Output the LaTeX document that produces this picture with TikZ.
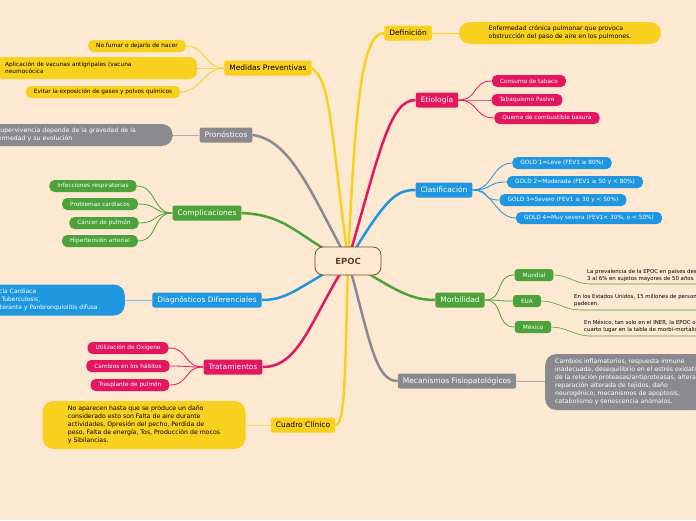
\documentclass[tikz,border=0pt]{standalone}
\usepackage{fontspec}
\setmainfont{DejaVu Sans}
\begin{document}
\begin{tikzpicture}[x=1pt,y=-1pt,
 every node/.style={inner sep=0pt,font=\fontsize{6.5}{7.5}\selectfont},
 main/.style={rounded corners=2pt,minimum height=15pt,inner xsep=5pt,font=\fontsize{7.5}{9}\selectfont},
 leaf/.style={rounded corners=5pt,minimum height=12pt,inner xsep=8pt,font=\fontsize{5.8}{7}\selectfont},
 big/.style={rounded corners=11pt,inner xsep=10pt,inner ysep=4pt,align=left,font=\fontsize{6.2}{8}\selectfont},
 plain/.style={align=left,anchor=west,font=\fontsize{5.4}{7}\selectfont},
 br/.style={line width=2.5pt}]
\definecolor{bg}{HTML}{FDE8D2}
\definecolor{yel}{HTML}{F9D01E}
\definecolor{pnk}{HTML}{E3175F}
\definecolor{blu}{HTML}{1E96E0}
\definecolor{grn}{HTML}{4BA33A}
\definecolor{gry}{HTML}{8A8A8E}
\fill[bg] (0,0) rectangle (696,520);
\useasboundingbox (0,0) rectangle (696,520);
\coordinate (c) at (348,261);
% right side
\node[main,fill=yel] (def) at (408,33) {Definición};
\node[big,fill=yel,minimum width=202pt,minimum height=22pt,inner ysep=2pt] (deft) at (560,33) {Enfermedad crónica pulmonar que provoca\\obstrucción del paso de aire en los pulmones.};
\node[main,fill=pnk,text=white] (eti) at (437,100) {Etiología};
\node[leaf,fill=pnk,text=white] (e1) at (529,81) {Consumo de tabaco};
\node[leaf,fill=pnk,text=white] (e2) at (527,100) {Tabaquismo Pasivo};
\node[leaf,fill=pnk,text=white] (e3) at (547,118) {Quema de combustible basura};
\node[main,fill=blu,text=white] (cla) at (444,190) {Clasificación};
\node[leaf,fill=blu,text=white] (g1) at (562,163) {GOLD 1=Leve (FEV1 ≥ 80\%)};
\node[leaf,fill=blu,text=white] (g2) at (575,182) {GOLD 2=Moderada (FEV1 ≥ 50 y < 80\%)};
\node[leaf,fill=blu,text=white] (g3) at (563,200) {GOLD 3=Severo (FEV1 ≥ 30 y < 50\%)};
\node[leaf,fill=blu,text=white] (g4) at (589,218) {GOLD 4=Muy severa (FEV1< 30\%, o < 50\%)};
\node[main,fill=grn,text=white] (mor) at (460,300) {Morbilidad};
\node[leaf,fill=grn,text=white,rounded corners=3pt] (m1) at (534,275) {Mundial};
\node[leaf,fill=grn,text=white,rounded corners=3pt] (m2) at (527,301) {EUA};
\node[leaf,fill=grn,text=white,rounded corners=3pt] (m3) at (533,327) {México};
\node[plain] (t1) at (587,275) {La prevalencia de la EPOC en países desarrollados es del\\3 al 6\% en sujetos mayores de 50 años};
\node[plain] (t2) at (574,301) {En los Estados Unidos, 15 millones de personas la\\padecen.};
\node[plain] (t3) at (584,326) {En México, tan solo en el INER, la EPOC ocupa el\\cuarto lugar en la tabla de morbi-mortalidad};
\coordinate (u1) at (590,284); \coordinate (v1) at (700,284);
\coordinate (u2) at (580,310); \coordinate (v2) at (700,310);
\coordinate (u3) at (590,336); \coordinate (v3) at (700,336);
\node[main,fill=gry,text=white] (mec) at (457,381) {Mecanismos Fisiopatológicos};
\node[big,fill=gry,text=white,anchor=west,minimum height=56pt] (mect) at (545,382) {Cambios inflamatorios, respuesta inmune\\inadecuada, desequilibrio en el estrés oxidativo,\\de la relación proteasas/antiproteasas, alteración\\reparación alterada de tejidos, daño\\neurogénico, mecanismos de apoptosis,\\catabolismo y senescencia anómalos.};
% left side
\node[main,fill=yel] (med) at (268,68) {Medidas Preventivas};
\node[leaf,fill=yel] (p1) at (137,46) {No fumar o dejarlo de hacer};
\node[leaf,fill=yel,align=left,rounded corners=8pt,text width=182pt,inner xsep=10pt,minimum height=22pt,anchor=west] (p2) at (-5,68) {Aplicación de vacunas antigripales (vacuna\\neumocócica};
\node[leaf,fill=yel] (p3) at (103,92) {Evitar la exposición de gases y polvos químicos};
\node[main,fill=gry,text=white] (pro) at (226,135) {Pronósticos};
\node[big,fill=gry,text=white,anchor=east,minimum height=22pt,inner ysep=2pt,text width=175pt] (prot) at (173,135) {La supervivencia depende de la gravedad de la\\enfermedad y su evolución};
\node[main,fill=grn,text=white] (com) at (207,213) {Complicaciones};
\node[leaf,fill=grn,text=white] (c1) at (93,186) {Infecciones respiratorias};
\node[leaf,fill=grn,text=white] (c2) at (100,204) {Problemas cardiacos};
\node[leaf,fill=grn,text=white] (c3) at (104,223) {Cáncer de pulmón};
\node[leaf,fill=grn,text=white] (c4) at (100,241) {Hipertensión arterial};
\node[main,fill=blu,text=white] (dia) at (207,300) {Diagnósticos Diferenciales};
\node[big,fill=blu,text=white,anchor=east,minimum height=31pt,inner ysep=2pt,text width=165pt,font=\fontsize{6}{8}\selectfont] (diat) at (125,300) {Asma, Insuficiencia Cardiaca\\Bronquiectasias, Tuberculosis,\\Bronquiolitis obliterante y Panbronquiolitis difusa};
\node[main,fill=pnk,text=white] (tra) at (233,367) {Tratamientos};
\node[leaf,fill=pnk,text=white] (r1) at (128,348) {Utilización de Oxígeno};
\node[leaf,fill=pnk,text=white] (r2) at (128,366) {Cambios en los hábitos};
\node[leaf,fill=pnk,text=white] (r3) at (130,385) {Trasplante de pulmón};
\node[main,fill=yel] (cua) at (303,425) {Cuadro Clínico};
\node[big,fill=yel,minimum width=203pt,minimum height=48pt] (cuat) at (144,425) {No aparecen hasta que se produce un daño\\considerado esto son Falta de aire durante\\actividades, Opresión del pecho, Perdida de\\peso, Falta de energía, Tos, Producción de mocos\\y Sibilancias.};
% branches
\draw[yel,br] (c) .. controls (355,120) and (360,33) .. (def.west);
\draw[pnk,br] (c) .. controls (380,150) and (390,100) .. (eti.west);
\draw[blu,br] (c) .. controls (385,200) and (395,190) .. (cla.west);
\draw[grn,br] (c) .. controls (395,290) and (410,300) .. (mor.west);
\draw[gry,br] (c) .. controls (370,340) and (375,381) .. (mec.west);
\draw[yel,br] (c) .. controls (330,120) and (330,80) .. (med.east);
\draw[gry,br] (c) .. controls (310,190) and (290,140) .. (pro.east);
\draw[grn,br] (c) .. controls (300,240) and (290,215) .. (com.east);
\draw[blu,br] (c) .. controls (300,285) and (290,300) .. (dia.east);
\draw[pnk,br] (c) .. controls (310,320) and (300,367) .. (tra.east);
\draw[yel,br] (c) .. controls (345,380) and (345,425) .. (cua.east);
\draw[yel,line width=0.8pt] (def) -- (deft);
\foreach \n in {e1,e2,e3}\draw[pnk,line width=0.8pt] (eti.east) .. controls +(20,0) and +(-20,0) .. (\n.west);
\foreach \n in {g1,g2,g3,g4}\draw[blu,line width=0.8pt] (cla.east) .. controls +(20,0) and +(-20,0) .. (\n.west);
\foreach \n in {m1,m2,m3}\draw[grn,line width=0.8pt] (mor.east) .. controls +(20,0) and +(-20,0) .. (\n.west);
\foreach \i in {1,2,3}\draw[grn,line width=0.6pt] (m\i.east) .. controls +(15,0) and +(-15,0) .. (u\i) -- (v\i);
\draw[gry!70,line width=0.8pt] (mec) -- (mect);
\foreach \n in {p1,p2,p3}\draw[yel,line width=0.8pt] (med.west) .. controls +(-20,0) and +(20,0) .. (\n.east);
\draw[gry!70,line width=0.8pt] (pro) -- (prot);
\foreach \n in {c1,c2,c3,c4}\draw[grn,line width=0.8pt] (com.west) .. controls +(-20,0) and +(20,0) .. (\n.east);
\draw[blu!60,line width=0.8pt] (dia) -- (diat);
\foreach \n in {r1,r2,r3}\draw[pnk,line width=0.8pt] (tra.west) .. controls +(-20,0) and +(20,0) .. (\n.east);
\draw[yel!70,line width=0.8pt] (cua) -- (cuat);
\node[draw=brown!60!black,fill=bg,rounded corners=8pt,minimum width=66pt,minimum height=28pt,line width=0.8pt,font=\bfseries\fontsize{8.5}{10}\selectfont,text=brown!50!black] (epoc) at (c) {EPOC};
\end{tikzpicture}
\end{document}
